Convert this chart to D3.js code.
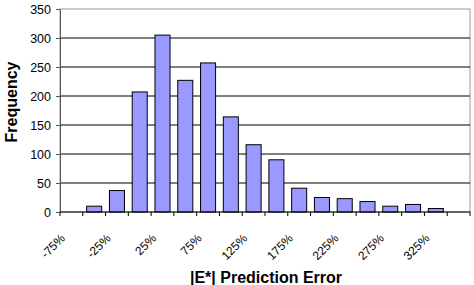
<!DOCTYPE html>
<html>
<head>
<meta charset="utf-8">
<script src="https://cdn.jsdelivr.net/npm/d3@7"></script>
<style>
  body { margin: 0; background: #fff; }
  svg { display: block; font-family: Arial, "Liberation Sans", sans-serif; }
</style>
</head>
<body>
<div id="chart"></div>
<script>
// bins of the |E*| prediction error, step 25%
const categories = ["-75%", "-50%", "-25%", "0%", "25%", "50%", "75%", "100%", "125%",
  "150%", "175%", "200%", "225%", "250%", "275%", "300%", "325%", "350%"];
const frequency = [0, 10, 37, 207, 305, 227, 257, 164, 116, 90, 41, 25, 23, 18, 10, 13, 6, 0];
const yTicks = [0, 50, 100, 150, 200, 250, 300, 350];
const xTickLabels = ["-75%", "-25%", "25%", "75%", "125%", "175%", "225%", "275%", "325%"];

const W = 474, H = 285;
const margin = { top: 9, right: 4, bottom: 73, left: 60 };
const width = W - margin.left - margin.right;
const height = H - margin.top - margin.bottom;

const svg = d3.select("#chart").append("svg")
  .attr("width", W)
  .attr("height", H);

const g = svg.append("g")
  .attr("transform", "translate(" + margin.left + "," + margin.top + ")");

const x = d3.scaleBand()
  .domain(categories)
  .range([0, width])
  .paddingInner(0.34)
  .paddingOuter(0.17);

const y = d3.scaleLinear()
  .domain([0, 350])
  .range([height, 0]);

// plot area border
g.append("rect")
  .attr("width", width)
  .attr("height", height)
  .attr("fill", "none")
  .attr("stroke", "#999");

// gridlines
g.selectAll("line.grid")
  .data(yTicks.filter(d => d > 0 && d < 350))
  .enter().append("line")
  .attr("class", "grid")
  .attr("x1", 0).attr("x2", width)
  .attr("y1", d => y(d)).attr("y2", d => y(d))
  .attr("stroke", "#000")
  .attr("stroke-width", 1);

// bars
g.selectAll("rect.bar")
  .data(frequency)
  .enter().append("rect")
  .attr("class", "bar")
  .attr("x", (d, i) => x(categories[i]))
  .attr("y", d => y(d))
  .attr("width", x.bandwidth())
  .attr("height", d => height - y(d))
  .attr("fill", "#9999ff")
  .attr("stroke", "#000")
  .attr("stroke-width", d => d > 0 ? 1 : 0);

// y axis
const yAxis = g.append("g")
  .call(d3.axisLeft(y).tickValues(yTicks).tickSize(4).tickSizeOuter(0));
yAxis.select(".domain").attr("stroke", "#555");
yAxis.selectAll("line").attr("stroke", "#555");
yAxis.selectAll("text")
  .attr("font-size", 12.5)
  .attr("fill", "#000")
  .attr("x", -9);

// x axis: ticks on band boundaries
const step = x.step();
const boundaries = d3.range(categories.length + 1).map(i => i * step);
const xg = g.append("g").attr("transform", "translate(0," + height + ")");
xg.append("line")
  .attr("x1", 0).attr("x2", width)
  .attr("stroke", "#000");
xg.selectAll("line.tick")
  .data(boundaries)
  .enter().append("line")
  .attr("class", "tick")
  .attr("x1", d => d).attr("x2", d => d)
  .attr("y1", 0).attr("y2", 4)
  .attr("stroke", "#000");

xg.selectAll("text")
  .data(xTickLabels)
  .enter().append("text")
  .attr("transform", d => "translate(" + (x(d) + x.bandwidth() / 2 - 5.5) + ",27) rotate(-45)")
  .attr("text-anchor", "end")
  .attr("font-size", 12)
  .attr("fill", "#000")
  .text(d => d);

// axis titles
svg.append("text")
  .attr("transform", "translate(17,102) rotate(-90)")
  .attr("text-anchor", "middle")
  .attr("font-size", 16)
  .attr("font-weight", "bold")
  .text("Frequency");

svg.append("text")
  .attr("x", 266)
  .attr("y", 283)
  .attr("text-anchor", "middle")
  .attr("font-size", 16)
  .attr("font-weight", "bold")
  .text("|E*| Prediction Error");
</script>
</body>
</html>
